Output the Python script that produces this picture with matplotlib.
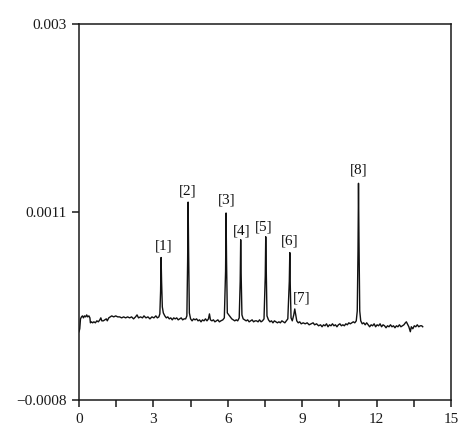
import matplotlib
matplotlib.use("Agg")
import matplotlib.pyplot as plt
from matplotlib.ticker import FixedLocator, FixedFormatter


# Trace (time in min, signal in units of 1e-5)
time = [0.00, 0.03, 0.06, 0.10, 0.14, 0.18, 0.22, 0.27, 0.31, 0.35, 0.40, 0.44, 0.46, 0.50, 0.55,
        0.60, 0.66, 0.72, 0.78, 0.84, 0.88, 0.92, 0.98, 1.04, 1.10, 1.14, 1.20, 1.26, 1.32, 1.40,
        1.48, 1.56, 1.64, 1.72, 1.80, 1.88, 1.96, 2.04, 2.12, 2.20, 2.28, 2.34, 2.40, 2.48, 2.56,
        2.62, 2.70, 2.78, 2.86, 2.94, 3.02, 3.10, 3.16, 3.22, 3.26, 3.29, 3.31, 3.33, 3.36, 3.40,
        3.46, 3.52, 3.58, 3.64, 3.70, 3.76, 3.82, 3.88, 3.94, 4.00, 4.06, 4.12, 4.18, 4.24, 4.30,
        4.35, 4.38, 4.40, 4.42, 4.45, 4.50, 4.56, 4.62, 4.68, 4.74, 4.80, 4.86, 4.92, 4.98, 5.04,
        5.10, 5.16, 5.22, 5.26, 5.30, 5.36, 5.42, 5.48, 5.54, 5.60, 5.66, 5.72, 5.80, 5.86, 5.91,
        5.93, 5.95, 5.98, 6.04, 6.10, 6.16, 6.22, 6.28, 6.34, 6.40, 6.46, 6.50, 6.52, 6.54, 6.57,
        6.62, 6.68, 6.74, 6.80, 6.86, 6.92, 6.98, 7.04, 7.10, 7.16, 7.22, 7.28, 7.34, 7.40, 7.46,
        7.51, 7.53, 7.55, 7.58, 7.64, 7.70, 7.76, 7.82, 7.88, 7.94, 8.00, 8.06, 8.12, 8.18, 8.24,
        8.30, 8.36, 8.42, 8.48, 8.50, 8.52, 8.55, 8.60, 8.66, 8.70, 8.74, 8.78, 8.84, 8.90, 8.96,
        9.04, 9.12, 9.20, 9.28, 9.36, 9.44, 9.50, 9.58, 9.66, 9.74, 9.80, 9.86, 9.92, 9.98, 10.04,
        10.10, 10.16, 10.22, 10.28, 10.34, 10.40, 10.46, 10.52, 10.58, 10.64, 10.70, 10.76, 10.82, 10.88, 10.94,
        11.00, 11.06, 11.12, 11.18, 11.22, 11.25, 11.27, 11.29, 11.32, 11.36, 11.42, 11.48, 11.54, 11.60, 11.66,
        11.72, 11.78, 11.84, 11.90, 11.96, 12.02, 12.08, 12.14, 12.20, 12.26, 12.32, 12.38, 12.44, 12.50, 12.56,
        12.62, 12.68, 12.74, 12.80, 12.86, 12.92, 12.98, 13.04, 13.10, 13.16, 13.20, 13.24, 13.30, 13.36, 13.40,
        13.46, 13.52, 13.58, 13.64, 13.70, 13.76, 13.82, 13.86]
signal_e5 = [-11, -8, 2, 4, 5, 3, 5, 4, 6, 4, 5, 3, -2, -1, -2,
             -1, -2, 0, -1, 1, 3, 0, 0, 1, 2, 0, 3, 4, 5, 4,
             5, 4, 4, 3, 4, 3, 4, 3, 4, 2, 4, 6, 3, 4, 3,
             5, 3, 4, 2, 4, 3, 5, 3, 4, 7, 30, 64, 40, 14, 8,
             5, 3, 4, 2, 3, 1, 3, 2, 3, 1, 2, 3, 1, 2, 2,
             5, 60, 120, 70, 8, 2, 0, 2, 1, 2, 0, 1, -1, 1, 0,
             2, 0, 2, 7, 1, 0, 1, -1, 0, 1, -1, 0, 1, 3, 50,
             109, 60, 8, 6, 4, 2, 1, 0, 1, 0, 3, 40, 82, 45, 6,
             2, 1, 0, 1, -1, 0, 1, -1, 0, 0, -1, 1, -1, 0, 2,
             45, 85, 50, 5, 1, -1, 0, -2, 0, -1, -2, -1, -2, 0, -1,
             -2, 0, 2, 40, 69, 35, 3, 0, 6, 12, 6, 0, -2, -1, -3,
             -2, -3, -2, -4, -3, -2, -4, -3, -5, -4, -6, -4, -5, -3, -6,
             -4, -5, -3, -5, -4, -6, -4, -3, -5, -4, -5, -3, -4, -2, -3,
             -2, -1, -2, 0, 10, 70, 139, 80, 10, 0, -3, -2, -4, -2, -4,
             -6, -4, -5, -3, -6, -4, -5, -3, -6, -4, -5, -7, -5, -6, -4,
             -6, -5, -7, -5, -6, -4, -6, -5, -4, -2, -1, -3, -6, -11, -6,
             -8, -5, -6, -4, -6, -5, -5, -6]

peak_labels = ["[1]", "[2]", "[3]", "[4]", "[5]", "[6]", "[7]", "[8]"]
label_x = [3.43, 4.37, 5.94, 6.55, 7.45, 8.48, 8.97, 11.28]
label_y = [0.00076, 0.001315, 0.00122, 0.00091, 0.00095, 0.00081, 0.000234, 0.00152]

xticks = [0, 3, 6, 9, 12, 15]
xminor = [1.5, 4.5, 7.5, 10.5, 13.5]
yticks = [-0.0008, 0.0011, 0.003]
ytick_labels = ["\u22120.0008", "0.0011", "0.003"]

plt.rcParams['font.family'] = ['Liberation Serif', 'DejaVu Serif']

fig = plt.figure(figsize=(4.74, 4.44), dpi=100)
ax = fig.add_axes([79 / 474, 44 / 444, 372 / 474, 376 / 444])

signal = [v * 1e-5 for v in signal_e5]
ax.plot(time, signal, color="#111111", lw=1.0)

for lab, lx, ly in zip(peak_labels, label_x, label_y):
    ax.text(lx, ly, lab, ha="center", va="center", fontsize=11, color="#111111")

ax.set_xlim(0, 15)
ax.set_ylim(-0.0008, 0.003)
ax.xaxis.set_major_locator(FixedLocator(xticks))
ax.xaxis.set_minor_locator(FixedLocator(xminor))
ax.yaxis.set_major_locator(FixedLocator(yticks))
ax.yaxis.set_major_formatter(FixedFormatter(ytick_labels))

for s in ax.spines.values():
    s.set_linewidth(1.1)
    s.set_color("#1a1a1a")
ax.tick_params(axis="both", which="both", direction="out", length=5, width=1.1,
               colors="#1a1a1a", labelsize=11, top=False, right=False)
ax.tick_params(axis="x", pad=4)
ax.tick_params(axis="y", pad=4)

fig.savefig("out.png", dpi=100)
